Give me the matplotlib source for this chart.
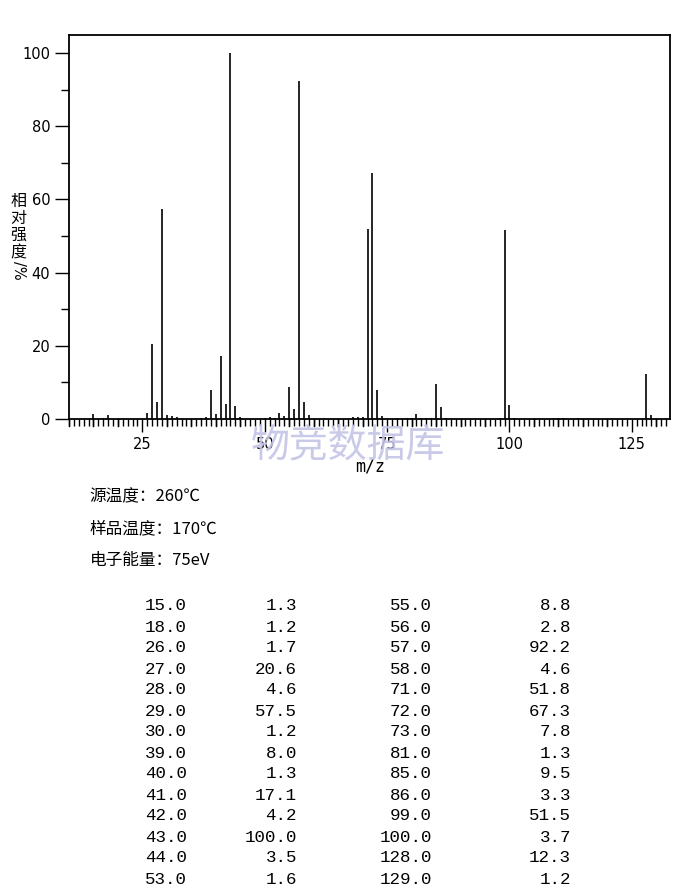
import matplotlib.pyplot as plt
from matplotlib.ticker import MultipleLocator

plt.rcParams['font.family'] = ['DejaVu Sans', 'Noto Sans CJK SC']

# peaks listed in the table
mz = [15, 18, 26, 27, 28, 29, 30, 39, 40, 41, 42, 43, 44, 53,
      55, 56, 57, 58, 71, 72, 73, 81, 85, 86, 99, 100, 128, 129]
intensity = [1.3, 1.2, 1.7, 20.6, 4.6, 57.5, 1.2, 8.0, 1.3, 17.1, 4.2, 100.0, 3.5, 1.6,
             8.8, 2.8, 92.2, 4.6, 51.8, 67.3, 7.8, 1.3, 9.5, 3.3, 51.5, 3.7, 12.3, 1.2]

# small peaks visible in the plot only
mz_small = [17, 31, 32, 37, 38, 45, 50, 51, 52, 54, 59, 68, 69, 70, 74, 77, 79, 80,
            82, 83, 84, 87, 98, 101, 110, 111, 114]
int_small = [0.3, 0.9, 0.6, 0.3, 0.5, 0.5, 0.3, 0.5, 0.4, 0.9, 1.0, 0.5, 0.6, 0.5, 0.7,
             0.3, 0.3, 0.4, 0.4, 0.4, 0.4, 0.3, 0.4, 0.3, 0.3, 0.3, 0.4]

info = ["源温度：260℃", "样品温度：170℃", "电子能量：75eV"]

fig = plt.figure(figsize=(6.96, 8.93), dpi=100)
ax = fig.add_axes([0.0991, 0.5308, 0.8635, 0.4300])

ax.vlines(mz, 0, intensity, color='black', lw=1.2)
ax.vlines(mz_small, 0, int_small, color='black', lw=1.2)

ax.set_xlim(10, 132.8)
ax.set_ylim(0, 104.9)
ax.xaxis.set_major_locator(MultipleLocator(25))
ax.xaxis.set_minor_locator(MultipleLocator(1))
ax.yaxis.set_major_locator(MultipleLocator(20))
ax.yaxis.set_minor_locator(MultipleLocator(10))
ax.tick_params(axis='x', which='major', length=9, width=1, labelsize=10.5, pad=4)
ax.tick_params(axis='x', which='minor', length=5, width=1)
ax.tick_params(axis='y', which='major', length=10, width=1, labelsize=10.5)
ax.tick_params(axis='y', which='minor', length=6, width=1)
for s in ax.spines.values():
    s.set_linewidth(1.3)

# medium ticks every 5
for v in range(10, 133, 5):
    if v % 25:
        ax.plot([v, v], [0, -0.0185 * 104.9], color='black', lw=1, clip_on=False)

fig.text(0.026, 0.746, "相\n对\n强\n度", fontsize=11.5, ha='center', va='center',
         family=['Noto Sans CJK SC', 'DejaVu Sans'], linespacing=1.02, weight='medium')
fig.text(0.026, 0.697, "/%", fontsize=10.5, ha='center', va='center', rotation=-90)

fig.text(0.532, 0.478, "m/z", fontsize=12, ha='center', va='center',
         family='DejaVu Sans Mono')
fig.text(0.5, 0.4995, "物竞数据库", fontsize=28, ha='center', va='center',
         color='#c4c4e6', family=['Noto Sans CJK SC'], alpha=0.9)

for i, t in enumerate(info):
    fig.text(0.129, 1 - (497 + i * 31.5) / 893, t, fontsize=12, ha='left', va='center',
             family=['Noto Sans CJK SC', 'DejaVu Sans'])

half = 14
for i in range(half):
    y = 1 - (606 + i * 21) / 893
    rows = [(mz[i], intensity[i], 187, 297), (mz[i + half], intensity[i + half], 432, 571)]
    for m, v, x1, x2 in rows:
        fig.text(x1 / 696, y, f"{m:.1f}", fontsize=12.6, ha='right', va='center',
                 family='Liberation Mono')
        fig.text(x2 / 696, y, f"{v:.1f}", fontsize=12.6, ha='right', va='center',
                 family='Liberation Mono')

fig.savefig("out.png", dpi=100)
